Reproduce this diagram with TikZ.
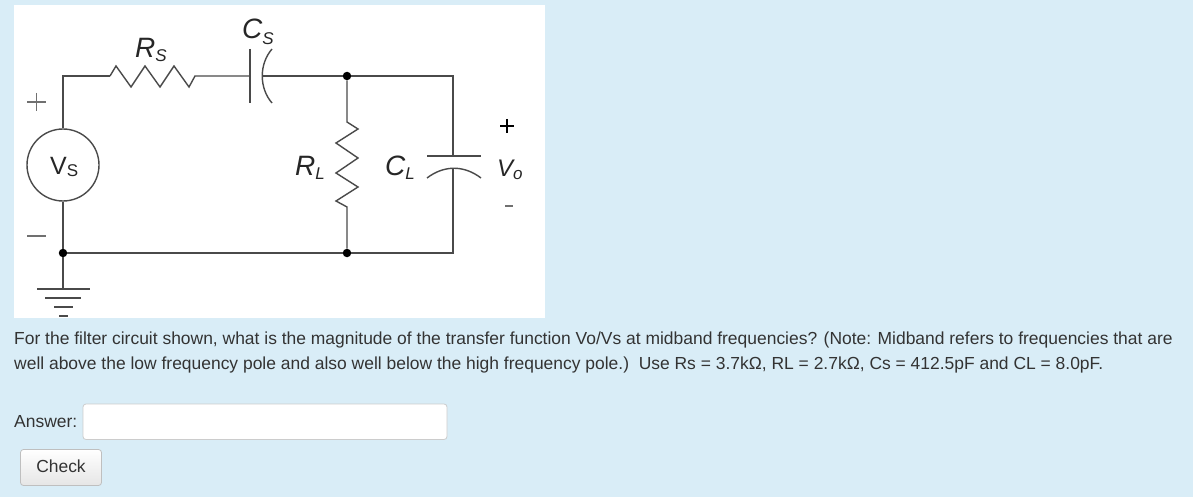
\documentclass[tikz,border=0pt]{standalone}
\usepackage{fontspec}
\setmainfont{Liberation Sans}
\definecolor{pagebg}{HTML}{D9EDF7}
\definecolor{wirecol}{HTML}{4A4A4A}
\definecolor{markcol}{HTML}{707070}
\definecolor{inktext}{HTML}{333333}
\definecolor{boxedge}{HTML}{CCCCCC}
\newcommand{\subdrop}[2]{\raisebox{-#1pt}{\fontsize{17}{17}\selectfont #2}}
\tikzset{
  wire/.style={draw=wirecol,line width=1.4pt},
  junction/.style={circle,fill=black,inner sep=0pt,minimum size=8.5pt},
  lab/.style={inner sep=0pt,anchor=base west,text=black!85,font=\fontsize{28}{28}\selectfont\itshape},
  labup/.style={inner sep=0pt,anchor=base west,text=black!85,font=\fontsize{25}{25}\selectfont},
  para/.style={inner sep=0pt,anchor=base west,text=inktext,font=\fontsize{17.45}{17.45}\selectfont},
  source/.style={circle,draw=wirecol,line width=1.4pt,fill=white,minimum size=72pt,inner sep=0pt}
}
\begin{document}
\begin{tikzpicture}[x=1pt,y=-1pt]
\useasboundingbox (0,0) rectangle (1193,497);
\fill[pagebg] (0,0) rectangle (1193,497);
\fill[white] (14,5) rectangle (545,318);
% key points
\node[source] (vs) at (63,165) {};
\node[junction] (jtop) at (347,76) {};
\node[junction] (jbot) at (347,253) {};
\node[junction] (jgnd) at (63,253) {};
\coordinate (tl) at (63,76);
\coordinate (tr) at (453,76);
\coordinate (br) at (453,253);
\coordinate (rsa) at (110,76);
\coordinate (rsb) at (195,76);
\coordinate (csa) at (250,76);
\coordinate (csb) at (262,76);
\coordinate (rla) at (347,122);
\coordinate (rlb) at (347,207);
\coordinate (cla) at (453,156);
\coordinate (clb) at (453,169);
\coordinate (gnd) at (63,289);
% wires
\draw[wire] (vs.north) -- (tl) -- (rsa);
\draw[wire] (rsa) -- (116,66) -- (131,87) -- (145,66) -- (160,87) -- (174,66) -- (189,87) -- (rsb) -- (csa);
\draw[wire] (250,49) -- (250,103);
\draw[wire] (272,49) .. controls (259,64) and (259,88) .. (272,103);
\draw[wire] (csb) -- (jtop) -- (tr) -- (cla);
\draw[wire] (427,156) -- (481,156);
\draw[wire] (427,178) .. controls (444,165) and (464,165) .. (481,178);
\draw[wire] (clb) -- (br) -- (jbot) -- (jgnd);
\draw[wire] (jtop) -- (rla) -- (358,129) -- (336,143) -- (358,158) -- (336,173) -- (358,187) -- (336,201) -- (rlb) -- (jbot);
\draw[wire] (vs.south) -- (jgnd) -- (gnd);
\draw[wire] (37,289) -- (90,289);
\draw[wire] (45,298) -- (81,298);
\draw[wire] (54,307) -- (73,307);
\draw[wire] (59,316) -- (68,316);
% polarity marks
\draw[markcol,line width=1.2pt] (27,102) -- (46,102);
\draw[markcol,line width=1.2pt] (36.5,93) -- (36.5,111);
\draw[markcol,line width=1.2pt] (27,236) -- (46,236);
\draw[black,line width=2pt] (500,126) -- (514,126);
\draw[black,line width=2pt] (507,119) -- (507,133);
\draw[markcol,line width=1.3pt] (505,206) -- (513,206);
% labels
\node[lab] (lrs) at (135,58) {R\subdrop{4}{S}};
\node[lab] (lcs) at (242,39) {C\subdrop{6}{S}};
\node[labup] (lvs) at (50,175) {V\subdrop{2}{S}};
\node[lab] (lrl) at (295,176) {R\subdrop{3}{L}};
\node[lab] (lcl) at (385,176) {C\subdrop{3}{L}};
\node[lab,font=\fontsize{24}{24}\selectfont\itshape] (lvo) at (497,177) {V\subdrop{2}{o}};
% question text
\node[para] (q1) at (14,344) {For the filter circuit shown, what is the magnitude of the transfer function Vo/Vs at midband frequencies? (Note: Midband refers to frequencies that are};
\node[para] (q2) at (14,369) {well above the low frequency pole and also well below the high frequency pole.)\ \ Use Rs = 3.7kΩ, RL = 2.7kΩ, Cs = 412.5pF and CL = 8.0pF.};
\node[para] (ans) at (14,427) {Answer:};
\draw[boxedge,fill=white,rounded corners=3pt,line width=0.8pt] (83,404) rectangle (447,439.5);
\shade[top color=white,bottom color=black!10,rounded corners=3pt] (20.5,449.5) rectangle (101.5,485.5);
\draw[black!25,rounded corners=3pt,line width=0.8pt] (20.5,449.5) rectangle (101.5,485.5);
\node[para,anchor=base] (chk) at (61,472) {Check};
\end{tikzpicture}
\end{document}
